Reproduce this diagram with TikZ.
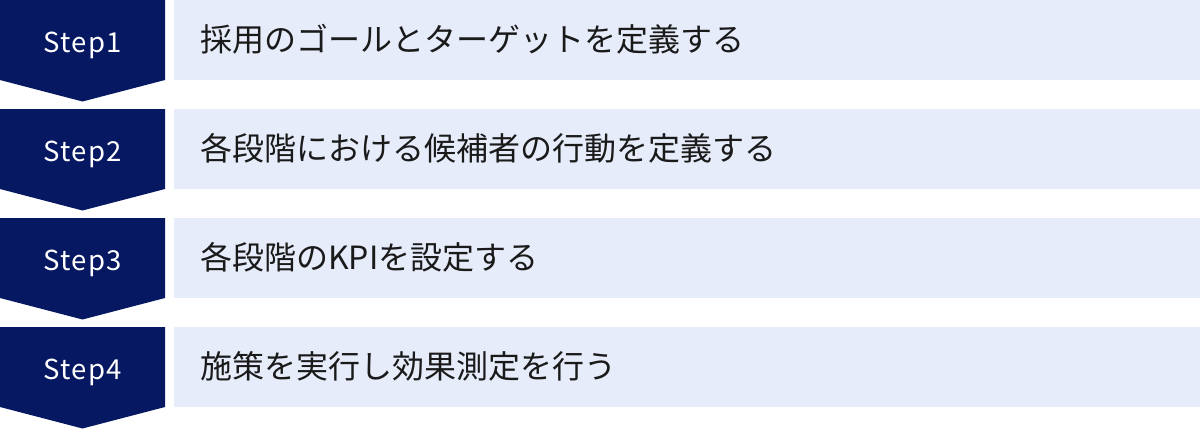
\documentclass[tikz,border=0pt]{standalone}
\usepackage{fontspec}
\setmainfont{Noto Sans CJK JP}
\definecolor{navy}{HTML}{061862}
\definecolor{pale}{HTML}{E6ECFA}
\definecolor{ink}{HTML}{1A1A1A}
\tikzset{
  chev/.style={fill=navy, draw=none},
  panel/.style={fill=pale, draw=none, inner sep=0pt, minimum width=1026pt, minimum height=80pt, anchor=north west},
  steplabel/.style={text=white, font=\fontsize{27.5}{32}\selectfont\addfontfeatures{LetterSpace=5}, inner sep=0pt, anchor=base},
  desc/.style={text=ink, font=\fontsize{32}{38}\selectfont, inner sep=0pt, anchor=base west}
}
\begin{document}
\begin{tikzpicture}[x=1pt,y=-1pt]
\useasboundingbox (0,0) rectangle (1200,429);
\foreach \i/\lab/\txt in {0/Step1/採用のゴールとターゲットを定義する,
                          1/Step2/各段階における候補者の行動を定義する,
                          2/Step3/各段階のKPIを設定する,
                          3/Step4/施策を実行し効果測定を行う}{
  \pgfmathsetmacro{\top}{\i*109}
  \fill[chev] (0,\top) -- (165,\top) -- ++(0,80) -- ++(-82.5,21.5) -- (0,\top+80) -- cycle;
  \node[panel] (box\i) at (174,\top) {};
  \node[steplabel] (step\i) at (82.5,\top+52.3) {\lab};
  \node[desc] (desc\i) at (200,\top+51) {\txt};
}
\end{tikzpicture}
\end{document}
